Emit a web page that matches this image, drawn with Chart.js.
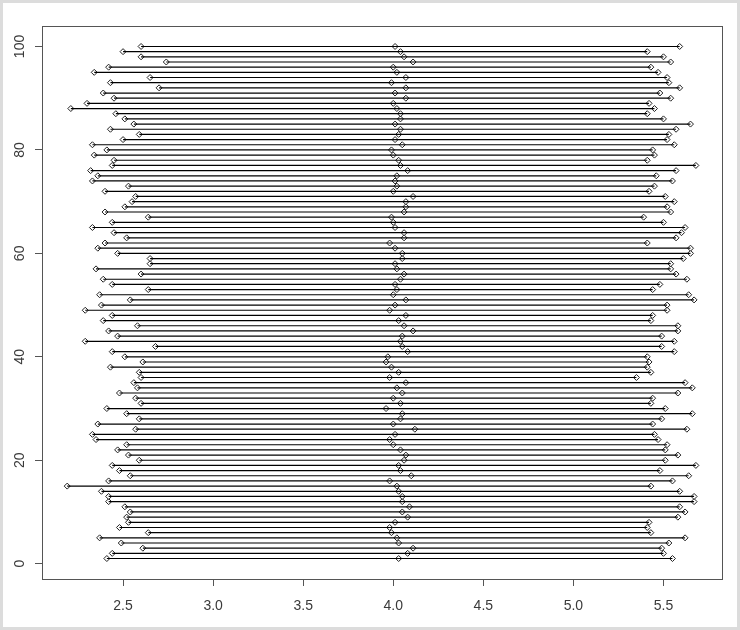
<!DOCTYPE html>
<html>
<head>
<meta charset="utf-8">
<title>Intervalos</title>
<script src="https://cdn.jsdelivr.net/npm/chart.js@4.4.1/dist/chart.umd.min.js"></script>
<style>
    html, body { margin: 0; padding: 0; background: #fff; }
    canvas { display: block; }
</style>
</head>
<body>
<canvas id="intervalChart" width="740" height="630"></canvas>
<script>
// linhas 1..100 (eixo y)
const rows = [
    1, 2, 3, 4, 5, 6, 7, 8, 9, 10, 11, 12, 13, 14, 15, 16, 17, 18, 19, 20,
    21, 22, 23, 24, 25, 26, 27, 28, 29, 30, 31, 32, 33, 34, 35, 36, 37, 38, 39, 40,
    41, 42, 43, 44, 45, 46, 47, 48, 49, 50, 51, 52, 53, 54, 55, 56, 57, 58, 59, 60,
    61, 62, 63, 64, 65, 66, 67, 68, 69, 70, 71, 72, 73, 74, 75, 76, 77, 78, 79, 80,
    81, 82, 83, 84, 85, 86, 87, 88, 89, 90, 91, 92, 93, 94, 95, 96, 97, 98, 99, 100
];

// limite inferior de cada linha
const lowValues = [
    2.41, 2.44, 2.61, 2.49, 2.37, 2.64, 2.48, 2.53, 2.52, 2.54,
    2.51, 2.42, 2.42, 2.38, 2.19, 2.42, 2.54, 2.48, 2.44, 2.59,
    2.53, 2.47, 2.52, 2.35, 2.33, 2.57, 2.36, 2.59, 2.52, 2.41,
    2.60, 2.57, 2.48, 2.58, 2.56, 2.60, 2.59, 2.43, 2.61, 2.51,
    2.44, 2.68, 2.29, 2.47, 2.42, 2.58, 2.39, 2.44, 2.29, 2.38,
    2.54, 2.37, 2.64, 2.44, 2.39, 2.60, 2.35, 2.65, 2.65, 2.47,
    2.36, 2.40, 2.52, 2.45, 2.33, 2.44, 2.64, 2.40, 2.51, 2.55,
    2.57, 2.40, 2.53, 2.33, 2.36, 2.32, 2.44, 2.45, 2.34, 2.41,
    2.33, 2.50, 2.59, 2.43, 2.56, 2.51, 2.46, 2.21, 2.30, 2.45,
    2.39, 2.70, 2.43, 2.65, 2.34, 2.42, 2.74, 2.60, 2.50, 2.60
];

// ponto central
const midValues = [
    4.03, 4.08, 4.11, 4.03, 4.02, 3.99, 3.98, 4.01, 4.08, 4.05,
    4.09, 4.05, 4.05, 4.03, 4.02, 3.98, 4.10, 4.04, 4.03, 4.06,
    4.07, 4.04, 4.00, 3.98, 4.01, 4.12, 4.00, 4.04, 4.05, 3.96,
    4.04, 4.00, 4.05, 4.02, 4.07, 3.98, 4.03, 3.99, 3.96, 3.97,
    4.08, 4.05, 4.04, 4.05, 4.11, 4.06, 4.03, 4.07, 3.98, 4.01,
    4.07, 4.00, 4.02, 4.01, 4.04, 4.06, 4.02, 4.01, 4.05, 4.05,
    4.01, 3.98, 4.06, 4.06, 4.01, 4.00, 3.99, 4.06, 4.07, 4.07,
    4.11, 4.00, 4.02, 4.01, 4.02, 4.08, 4.04, 4.03, 4.00, 3.99,
    4.05, 4.01, 4.03, 4.04, 4.01, 4.04, 4.04, 4.02, 4.00, 4.07,
    4.01, 4.07, 3.99, 4.07, 4.02, 4.00, 4.11, 4.06, 4.04, 4.01
];

// limite superior
const highValues = [
    5.55, 5.50, 5.49, 5.53, 5.62, 5.43, 5.41, 5.42, 5.58, 5.62,
    5.59, 5.67, 5.67, 5.59, 5.43, 5.55, 5.64, 5.48, 5.68, 5.51,
    5.58, 5.51, 5.52, 5.47, 5.45, 5.63, 5.44, 5.49, 5.66, 5.51,
    5.43, 5.44, 5.58, 5.66, 5.62, 5.35, 5.43, 5.41, 5.42, 5.41,
    5.56, 5.49, 5.56, 5.49, 5.58, 5.58, 5.43, 5.44, 5.52, 5.52,
    5.67, 5.64, 5.44, 5.48, 5.63, 5.57, 5.54, 5.54, 5.61, 5.65,
    5.65, 5.41, 5.57, 5.60, 5.62, 5.50, 5.39, 5.54, 5.52, 5.56,
    5.51, 5.42, 5.45, 5.55, 5.46, 5.57, 5.68, 5.41, 5.45, 5.44,
    5.56, 5.52, 5.53, 5.57, 5.65, 5.50, 5.41, 5.45, 5.42, 5.54,
    5.48, 5.59, 5.53, 5.52, 5.47, 5.43, 5.54, 5.50, 5.41, 5.59
];

const xTicks = [2.5, 3.0, 3.5, 4.0, 4.5, 5.0, 5.5];
const yTicks = [0, 20, 40, 60, 80, 100];

const fontFamily = "'Liberation Sans', Arial, sans-serif";
Chart.defaults.font.family = fontFamily;
Chart.defaults.font.size = 14;
Chart.defaults.color = "#3a3a3a";

// fundo branco + moldura cinza clara da imagem
const pageFrame = {
    id: "pageFrame",
    beforeDraw(chart) {
        const c = chart.ctx;
        c.save();
        c.fillStyle = "#fff";
        c.fillRect(0, 0, chart.width, chart.height);
        c.strokeStyle = "#dcdcdc";
        c.lineWidth = 3;
        c.strokeRect(1.5, 1.5, chart.width - 3, chart.height - 3);
        c.restore();
    },
};

// caixa do gráfico (estilo R) e rótulos do eixo y girados
const boxAndLabels = {
    id: "boxAndLabels",
    afterDraw(chart) {
        const c = chart.ctx;
        const area = chart.chartArea;
        c.save();
        c.strokeStyle = "#555";
        c.lineWidth = 1;
        c.strokeRect(Math.round(area.left) + 0.5, Math.round(area.top) + 0.5,
            Math.round(area.right - area.left), Math.round(area.bottom - area.top));

        const yScale = chart.scales.y;
        c.fillStyle = "#3a3a3a";
        c.font = "14px " + fontFamily;
        c.textAlign = "center";
        c.textBaseline = "middle";
        yTicks.forEach((v) => {
            c.save();
            c.translate(20, yScale.getPixelForValue(v));
            c.rotate(-Math.PI / 2);
            c.fillText(String(v), 0, 0);
            c.restore();
        });
        c.restore();
    },
};

const segmentDatasets = rows.map((r, i) => {
    return {
        type: "line",
        data: [
            { x: lowValues[i], y: r },
            { x: highValues[i], y: r },
        ],
        borderColor: "#000",
        borderWidth: 1.2,
        pointRadius: 0,
        fill: false,
        tension: 0,
    };
});

const pointData = [];
rows.forEach((r, i) => {
    pointData.push({ x: lowValues[i], y: r });
    pointData.push({ x: midValues[i], y: r });
    pointData.push({ x: highValues[i], y: r });
});

const config = {
    type: "scatter",
    data: {
        datasets: [
            ...segmentDatasets,
            {
                type: "scatter",
                data: pointData,
                pointStyle: "rectRot",
                pointRadius: 3,
                borderColor: "#222",
                backgroundColor: "rgba(255,255,255,0.6)",
                borderWidth: 1,
            },
        ],
    },
    options: {
        responsive: false,
        animation: false,
        layout: {
            padding: { top: 26, right: 18, bottom: 0, left: 0 },
        },
        plugins: {
            legend: { display: false },
            tooltip: { enabled: false },
        },
        scales: {
            x: {
                type: "linear",
                min: 2.05,
                max: 5.825,
                afterBuildTicks: (scale) => {
                    scale.ticks = xTicks.map((v) => ({ value: v }));
                },
                afterFit: (scale) => {
                    scale.height = 51;
                },
                ticks: {
                    padding: 12,
                    maxRotation: 0,
                    color: "#3a3a3a",
                    callback: (v) => Number(v).toFixed(1),
                },
                grid: {
                    drawOnChartArea: false,
                    drawTicks: true,
                    tickLength: 7,
                    tickColor: "#555",
                },
                border: { display: false },
            },
            y: {
                type: "linear",
                min: -2.96,
                max: 103.96,
                afterBuildTicks: (scale) => {
                    scale.ticks = yTicks.map((v) => ({ value: v }));
                },
                afterFit: (scale) => {
                    scale.width = 42;
                },
                ticks: { display: false },
                grid: {
                    drawOnChartArea: false,
                    drawTicks: true,
                    tickLength: 7,
                    tickColor: "#555",
                },
                border: { display: false },
            },
        },
    },
    plugins: [pageFrame, boxAndLabels],
};

const ctx = document.getElementById("intervalChart").getContext("2d");
new Chart(ctx, config);
</script>
</body>
</html>
